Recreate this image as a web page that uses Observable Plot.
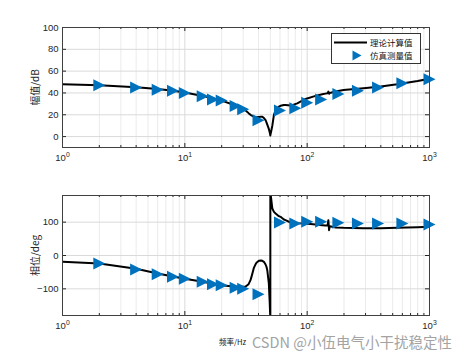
<!DOCTYPE html>
<html><head><meta charset="utf-8">
<script src="https://cdn.jsdelivr.net/npm/d3@7"></script>
<script src="https://cdn.jsdelivr.net/npm/@observablehq/plot@0.6"></script>
<style>
body{margin:0;background:#fff;}
#wrap{position:relative;width:474px;height:355px;overflow:hidden;background:#fff;font-family:"Liberation Sans","Noto Sans CJK SC",sans-serif;}
#wrap > svg{position:absolute;left:0;}
.legend{position:absolute;left:331px;top:33px;width:88px;height:29px;border:1px solid #333;background:#fff;}
.legend svg{position:absolute;left:0;top:0;}
.legend .t{position:absolute;left:38px;font-family:"Noto Sans CJK SC",sans-serif;font-size:8.5px;line-height:10px;color:#111;}
.xlab{position:absolute;left:219px;top:337px;font-family:"Noto Sans CJK SC",sans-serif;font-size:7.5px;line-height:10px;color:#111;white-space:nowrap;}
.wm{position:absolute;left:252px;top:332px;font-family:"Noto Sans CJK SC",sans-serif;font-size:14.5px;line-height:20px;color:#a3a3a3;white-space:nowrap;}
</style></head><body><div id="wrap"></div>
<script>
// measured (simulation) points
const measFreq  = [2, 4, 6, 8, 10, 14, 17, 20, 26, 30, 40, 60, 80, 100, 130, 180, 260, 380, 600, 1000];
const measMag   = [47, 45, 43, 42, 40, 37, 34, 33, 28, 25, 15, 24, 26, 31, 34, 39, 42, 45, 49, 52.5];
const measPhase = [-24, -42, -56, -64, -70, -79, -86, -89, -97, -100, -116, 99, 96, 101, 101, 98, 96, 96, 96, 93];
// theoretical curve
const thFreq  = [1, 2, 4, 6, 8, 10, 14, 17, 20, 26, 30, 31.4, 33.2, 34.4, 35, 36.6, 37.9, 38.5, 40.3, 42, 43, 44.3, 45.7, 46.5, 47.2, 48.6, 49.4, 49.8, 50, 50, 50.5, 51.9, 53.5, 55.2, 58.7, 60.6, 64.5, 66.5, 73.1, 75.5, 83, 97, 117, 133, 141, 147, 149, 151, 153, 171, 198, 289, 400, 545, 800, 1000];
const thMag   = [48, 47, 45.3, 43.6, 42, 40.5, 37.3, 35, 33, 28.5, 25.5, 24, 21.5, 20, 19.4, 18.3, 17.8, 17.7, 18, 18.3, 18.2, 17, 15, 13, 11, 7, 4, 2, 1, 1.5, 3.5, 10, 20, 24, 27.4, 28.2, 29, 29, 28.6, 28.8, 30.5, 34.5, 37.3, 38.8, 39.4, 39.8, 41.2, 39.3, 40, 41.3, 42.7, 44.3, 46, 48, 51, 53];
const thPhase = [-19, -24, -40, -54, -63, -70, -79, -85, -89, -94, -94, -93, -86, -74, -65, -38, -26, -22, -16, -15, -16, -19, -27, -34, -44, -84, -140, -175, -180, 180, 178, 141, 131, 126, 118, 116, 108, 106, 99, 98, 97, 96, 93, 91, 90, 90, 106, 76, 88, 84, 83, 82, 82, 83, 85, 86];
// axes
const xMajor = [1, 10, 100, 1000];
const xMinor = [2,3,4,5,6,7,8,9,20,30,40,50,60,70,80,90,200,300,400,500,600,700,800,900];
const magTicks = [0, 20, 40, 60, 80, 100];
const phaseTicks = [-100, 0, 100];
const labels = {mag: "幅值/dB", phase: "相位/deg", freq: "频率/Hz", legLine: "理论计算值", legMark: "仿真测量值", wm: "CSDN @小伍电气小干扰稳定性"};

const tri = {draw(ctx, size){const r = Math.sqrt(size/Math.PI); ctx.moveTo(r,0); ctx.lineTo(-r,-r); ctx.lineTo(-r,r); ctx.closePath();}};
const ink = "#262626";
const W = 474, ML = 62, MR = 45;

function panel({top, height, mt, mb, domain, ticks, label, thY, measY}) {
  const fh = height - mt - mb, fw = W - ML - MR;
  const th = thFreq.map((f,i)=>({f, v: thY[i]}));
  const ms = measFreq.map((f,i)=>({f, v: measY[i]}));
  const p = Plot.plot({
    width: W, height, marginTop: mt, marginBottom: mb, marginLeft: ML, marginRight: MR,
    style: {fontSize: "9.5px", fontFamily: "Liberation Sans, Noto Sans CJK SC, sans-serif", color: ink, background: "transparent", overflow: "visible"},
    x: {type: "log", domain: [1, 1000]},
    y: {domain},
    marks: [
      Plot.ruleX(xMinor, {x: d=>d, stroke: "#ebebeb", strokeWidth: 1}),
      Plot.ruleX(xMajor.slice(1,3), {x: d=>d, stroke: "#dadada", strokeWidth: 1}),
      Plot.ruleY(ticks, {y: d=>d, stroke: "#dadada", strokeWidth: 1}),
      Plot.ruleX(xMajor, {x: d=>d, insetTop: fh-4, stroke: ink}),
      Plot.ruleX(xMajor, {x: d=>d, insetBottom: fh-4, stroke: ink}),
      Plot.ruleX(xMinor, {x: d=>d, insetTop: fh-2, stroke: ink}),
      Plot.ruleX(xMinor, {x: d=>d, insetBottom: fh-2, stroke: ink}),
      Plot.ruleY(ticks, {y: d=>d, insetRight: fw-4, stroke: ink}),
      Plot.ruleY(ticks, {y: d=>d, insetLeft: fw-4, stroke: ink}),
      Plot.line(th, {x: "f", y: "v", stroke: "black", strokeWidth: 2, clip: true}),
      Plot.dot(ms, {x: "f", y: "v", symbol: tri, r: 6, fill: "#0072BD", stroke: null}),
      Plot.frame({stroke: "#404040", strokeWidth: 1}),
      Plot.axisX({ticks: xMajor, tickSize: 0, tickPadding: 7, tickFormat: d => "10^" + Math.round(Math.log10(d)), label: null}),
      Plot.axisY({ticks, tickSize: 0, tickPadding: 4, label, labelAnchor: "center", labelArrow: "none", labelOffset: 31, fontSize: "9.5px"})
    ]
  });
  p.style.top = top + "px";
  p.querySelectorAll('[aria-label="x-axis tick label"] text').forEach(t => {
    const m = t.textContent.match(/^10\^(\d)$/);
    if (!m) return;
    t.textContent = "";
    const ns = "http://www.w3.org/2000/svg";
    const a = document.createElementNS(ns, "tspan"); a.textContent = "10";
    const b = document.createElementNS(ns, "tspan"); b.textContent = m[1];
    b.setAttribute("dy", "-0.65em"); b.setAttribute("font-size", "0.72em");
    t.append(a, b);
  });
  p.querySelectorAll('[aria-label="y-axis label"] text').forEach(t => { t.style.fontFamily = "Noto Sans CJK SC, sans-serif"; t.style.fontSize = "10px"; });
  return p;
}

const wrap = document.getElementById("wrap");
wrap.append(panel({top: 0, height: 175, mt: 27, mb: 28, domain: [-10, 100], ticks: magTicks, label: labels.mag, thY: thMag, measY: measMag}));
wrap.append(panel({top: 178, height: 177, mt: 17, mb: 40, domain: [-180, 180], ticks: phaseTicks, label: labels.phase, thY: thPhase, measY: measPhase}));

const leg = document.createElement("div"); leg.className = "legend";
leg.innerHTML = `<svg width="88" height="29"><line x1="2" x2="35" y1="8.5" y2="8.5" stroke="black" stroke-width="2"/><path d="M29.5,21.5 L20.5,16.5 L20.5,26.5 Z" fill="#0072BD"/></svg>
<div class="t" style="top:3px">${labels.legLine}</div><div class="t" style="top:16px">${labels.legMark}</div>`;
wrap.append(leg);
const xl = document.createElement("div"); xl.className = "xlab"; xl.textContent = labels.freq; wrap.append(xl);
const wm = document.createElement("div"); wm.className = "wm"; wm.textContent = labels.wm; wrap.append(wm);
</script></body></html>
